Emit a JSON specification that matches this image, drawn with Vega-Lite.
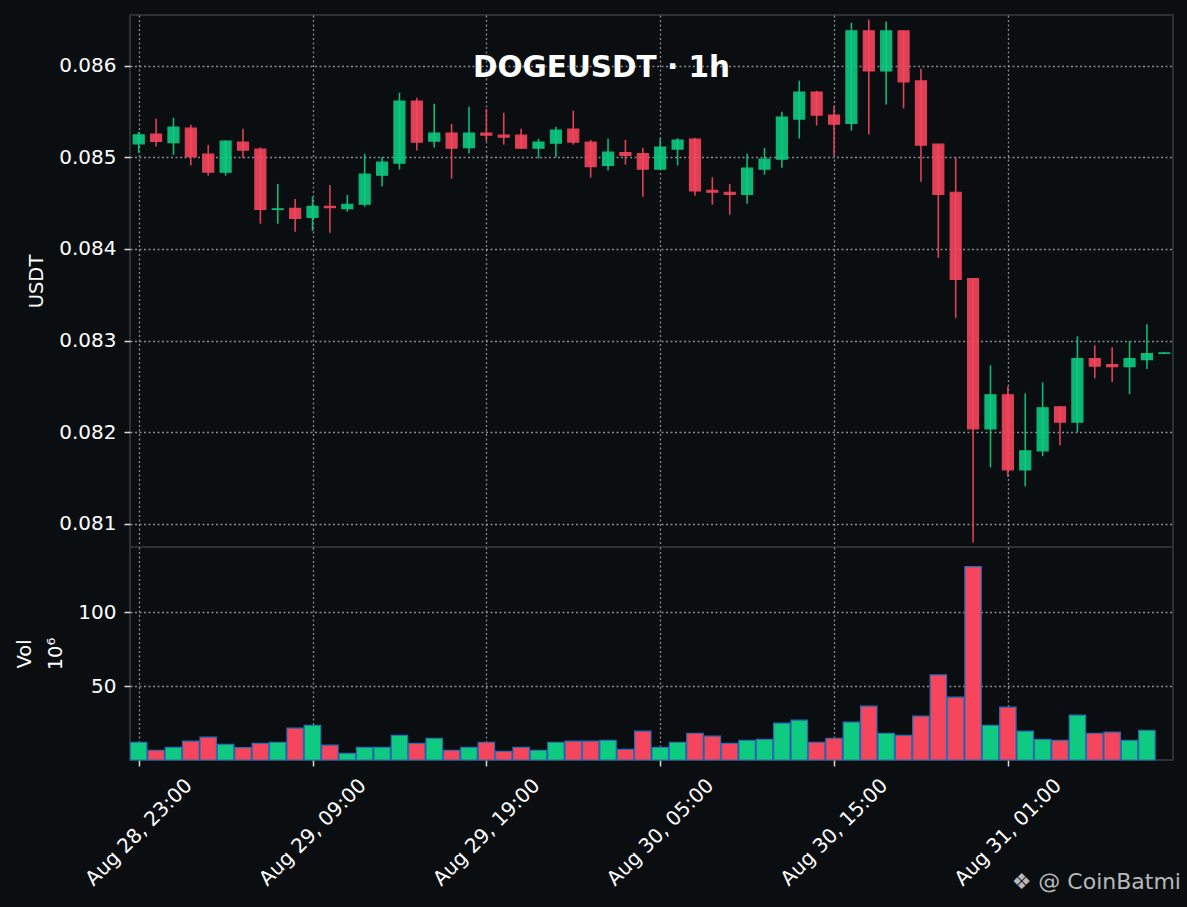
{
  "$schema": "https://vega.github.io/schema/vega-lite/v6.json",
  "background": "#0b0e11",
  "padding": {"left": 13, "top": 14, "right": 10, "bottom": 30},
  "bounds": "flush",
  "spacing": 0,
  "title": {"text": "❖ @ CoinBatmi", "orient": "bottom", "anchor": "end", "offset": -18, "dx": 7, "color": "#b8b8b8", "fontSize": 22, "font": "DejaVu Sans", "fontWeight": "normal"},
  "config": {
    "font": "DejaVu Sans",
    "view": {"stroke": "#2b2f36", "strokeWidth": 2},
    "axis": {"labelColor": "#ffffff", "labelFontSize": 20, "labelFont": "DejaVu Sans", "titleColor": "#ffffff", "titleFontSize": 19.5, "titleFontWeight": "normal", "titleFont": "DejaVu Sans", "tickColor": "#d9d9d9", "tickSize": 6, "tickWidth": 1.5, "domain": false, "gridColor": "#9aa0a6", "gridDash": [2, 2.5], "gridWidth": 1.3, "gridOpacity": 0.85, "labelPadding": 8, "labelOverlap": false, "labelFlush": false, "labelBound": false}
  },
  "data": {"values": [
    {"t": "2024-08-28T23:00:00Z", "o": 0.085147, "h": 0.085278, "l": 0.085048, "c": 0.085245, "v": 12.0},
    {"t": "2024-08-29T00:00:00Z", "o": 0.085253, "h": 0.08542, "l": 0.085117, "c": 0.085172, "v": 6.6},
    {"t": "2024-08-29T01:00:00Z", "o": 0.085161, "h": 0.085431, "l": 0.085026, "c": 0.08533, "v": 8.6},
    {"t": "2024-08-29T02:00:00Z", "o": 0.085318, "h": 0.085355, "l": 0.08491, "c": 0.085008, "v": 12.7},
    {"t": "2024-08-29T03:00:00Z", "o": 0.085034, "h": 0.085136, "l": 0.0848, "c": 0.084837, "v": 15.4},
    {"t": "2024-08-29T04:00:00Z", "o": 0.084837, "h": 0.085187, "l": 0.0848, "c": 0.085176, "v": 10.6},
    {"t": "2024-08-29T05:00:00Z", "o": 0.085165, "h": 0.085311, "l": 0.08499, "c": 0.085078, "v": 8.4},
    {"t": "2024-08-29T06:00:00Z", "o": 0.085089, "h": 0.085106, "l": 0.084275, "c": 0.084432, "v": 11.3},
    {"t": "2024-08-29T07:00:00Z", "o": 0.08443, "h": 0.084709, "l": 0.084275, "c": 0.084437, "v": 12.0},
    {"t": "2024-08-29T08:00:00Z", "o": 0.084443, "h": 0.084545, "l": 0.084187, "c": 0.084334, "v": 21.5},
    {"t": "2024-08-29T09:00:00Z", "o": 0.084345, "h": 0.08457, "l": 0.084195, "c": 0.084465, "v": 23.5},
    {"t": "2024-08-29T10:00:00Z", "o": 0.084465, "h": 0.084698, "l": 0.084176, "c": 0.08445, "v": 10.0},
    {"t": "2024-08-29T11:00:00Z", "o": 0.08444, "h": 0.084589, "l": 0.084406, "c": 0.084487, "v": 4.5},
    {"t": "2024-08-29T12:00:00Z", "o": 0.084487, "h": 0.085037, "l": 0.084461, "c": 0.084815, "v": 8.6},
    {"t": "2024-08-29T13:00:00Z", "o": 0.084804, "h": 0.085004, "l": 0.08468, "c": 0.084946, "v": 8.6},
    {"t": "2024-08-29T14:00:00Z", "o": 0.084936, "h": 0.085705, "l": 0.084866, "c": 0.085614, "v": 16.7},
    {"t": "2024-08-29T15:00:00Z", "o": 0.085614, "h": 0.08565, "l": 0.085073, "c": 0.085165, "v": 11.3},
    {"t": "2024-08-29T16:00:00Z", "o": 0.085176, "h": 0.085584, "l": 0.085106, "c": 0.085264, "v": 14.7},
    {"t": "2024-08-29T17:00:00Z", "o": 0.085264, "h": 0.085365, "l": 0.084767, "c": 0.0851, "v": 6.6},
    {"t": "2024-08-29T18:00:00Z", "o": 0.085106, "h": 0.085551, "l": 0.08504, "c": 0.085264, "v": 8.6},
    {"t": "2024-08-29T19:00:00Z", "o": 0.085264, "h": 0.085526, "l": 0.085172, "c": 0.085242, "v": 12.0},
    {"t": "2024-08-29T20:00:00Z", "o": 0.085242, "h": 0.085486, "l": 0.085139, "c": 0.08522, "v": 5.9},
    {"t": "2024-08-29T21:00:00Z", "o": 0.085242, "h": 0.085311, "l": 0.085089, "c": 0.0851, "v": 8.6},
    {"t": "2024-08-29T22:00:00Z", "o": 0.0851, "h": 0.085201, "l": 0.084986, "c": 0.085165, "v": 6.6},
    {"t": "2024-08-29T23:00:00Z", "o": 0.085154, "h": 0.085333, "l": 0.084997, "c": 0.085297, "v": 12.0},
    {"t": "2024-08-30T00:00:00Z", "o": 0.085308, "h": 0.085508, "l": 0.085139, "c": 0.085165, "v": 12.7},
    {"t": "2024-08-30T01:00:00Z", "o": 0.085165, "h": 0.08519, "l": 0.084778, "c": 0.084898, "v": 12.7},
    {"t": "2024-08-30T02:00:00Z", "o": 0.08491, "h": 0.085201, "l": 0.084855, "c": 0.085056, "v": 13.3},
    {"t": "2024-08-30T03:00:00Z", "o": 0.08505, "h": 0.08519, "l": 0.08492, "c": 0.08502, "v": 7.2},
    {"t": "2024-08-30T04:00:00Z", "o": 0.085041, "h": 0.085103, "l": 0.08457, "c": 0.08487, "v": 19.5},
    {"t": "2024-08-30T05:00:00Z", "o": 0.08487, "h": 0.085209, "l": 0.084862, "c": 0.085111, "v": 8.6},
    {"t": "2024-08-30T06:00:00Z", "o": 0.085089, "h": 0.085209, "l": 0.08491, "c": 0.085187, "v": 12.0},
    {"t": "2024-08-30T07:00:00Z", "o": 0.085198, "h": 0.085212, "l": 0.084581, "c": 0.084632, "v": 18.1},
    {"t": "2024-08-30T08:00:00Z", "o": 0.08464, "h": 0.084782, "l": 0.084483, "c": 0.084618, "v": 16.1},
    {"t": "2024-08-30T09:00:00Z", "o": 0.084618, "h": 0.084709, "l": 0.084373, "c": 0.084596, "v": 11.3},
    {"t": "2024-08-30T10:00:00Z", "o": 0.084596, "h": 0.085037, "l": 0.084494, "c": 0.084881, "v": 13.3},
    {"t": "2024-08-30T11:00:00Z", "o": 0.08487, "h": 0.085103, "l": 0.084811, "c": 0.084979, "v": 14.0},
    {"t": "2024-08-30T12:00:00Z", "o": 0.084979, "h": 0.085497, "l": 0.084887, "c": 0.085439, "v": 24.9},
    {"t": "2024-08-30T13:00:00Z", "o": 0.085417, "h": 0.085836, "l": 0.085205, "c": 0.085712, "v": 26.9},
    {"t": "2024-08-30T14:00:00Z", "o": 0.085712, "h": 0.085725, "l": 0.085347, "c": 0.085461, "v": 12.0},
    {"t": "2024-08-30T15:00:00Z", "o": 0.085461, "h": 0.085559, "l": 0.085019, "c": 0.085362, "v": 14.7},
    {"t": "2024-08-30T16:00:00Z", "o": 0.085369, "h": 0.08647, "l": 0.085292, "c": 0.08638, "v": 25.6},
    {"t": "2024-08-30T17:00:00Z", "o": 0.08638, "h": 0.086503, "l": 0.085248, "c": 0.085942, "v": 36.4},
    {"t": "2024-08-30T18:00:00Z", "o": 0.085942, "h": 0.086481, "l": 0.085577, "c": 0.08638, "v": 18.1},
    {"t": "2024-08-30T19:00:00Z", "o": 0.08638, "h": 0.08638, "l": 0.085533, "c": 0.085822, "v": 16.7},
    {"t": "2024-08-30T20:00:00Z", "o": 0.085833, "h": 0.085967, "l": 0.084734, "c": 0.085132, "v": 29.6},
    {"t": "2024-08-30T21:00:00Z", "o": 0.085143, "h": 0.085143, "l": 0.083903, "c": 0.084596, "v": 57.5},
    {"t": "2024-08-30T22:00:00Z", "o": 0.084618, "h": 0.085001, "l": 0.083246, "c": 0.083666, "v": 42.5},
    {"t": "2024-08-30T23:00:00Z", "o": 0.083677, "h": 0.083677, "l": 0.080796, "c": 0.082036, "v": 130.8},
    {"t": "2024-08-31T00:00:00Z", "o": 0.082036, "h": 0.082729, "l": 0.081616, "c": 0.082408, "v": 23.5},
    {"t": "2024-08-31T01:00:00Z", "o": 0.082408, "h": 0.082499, "l": 0.081514, "c": 0.081588, "v": 35.7},
    {"t": "2024-08-31T02:00:00Z", "o": 0.081588, "h": 0.082423, "l": 0.081408, "c": 0.081796, "v": 19.5},
    {"t": "2024-08-31T03:00:00Z", "o": 0.081796, "h": 0.082543, "l": 0.081737, "c": 0.082266, "v": 14.0},
    {"t": "2024-08-31T04:00:00Z", "o": 0.082277, "h": 0.082277, "l": 0.081857, "c": 0.082109, "v": 13.3},
    {"t": "2024-08-31T05:00:00Z", "o": 0.082109, "h": 0.083046, "l": 0.081999, "c": 0.082802, "v": 30.3},
    {"t": "2024-08-31T06:00:00Z", "o": 0.082802, "h": 0.082948, "l": 0.082587, "c": 0.082721, "v": 18.1},
    {"t": "2024-08-31T07:00:00Z", "o": 0.082737, "h": 0.082926, "l": 0.082546, "c": 0.082715, "v": 18.8},
    {"t": "2024-08-31T08:00:00Z", "o": 0.082715, "h": 0.082995, "l": 0.082415, "c": 0.082802, "v": 13.3},
    {"t": "2024-08-31T09:00:00Z", "o": 0.082791, "h": 0.083177, "l": 0.082688, "c": 0.082857, "v": 20.1},
    {"t": "2024-08-31T10:00:00Z", "o": 0.08286, "h": 0.08287, "l": 0.08285, "c": 0.082865, "v": null}
  ]},
  "vconcat": [
    {
      "width": 1043,
      "height": 532,
      "title": {"text": "DOGEUSDT · 1h", "offset": -68, "dx": -50, "anchor": "middle", "fontSize": 29.5, "fontWeight": "bold", "color": "#ffffff", "font": "DejaVu Sans"},
      "encoding": {
        "x": {"field": "t", "type": "temporal",
          "scale": {"type": "utc", "padding": 0, "domain": [{"year": 2024, "month": 8, "date": 28, "hours": 22, "minutes": 30, "utc": true}, {"year": 2024, "month": 8, "date": 31, "hours": 10, "minutes": 30, "utc": true}]},
          "axis": {"values": [
            {"year": 2024, "month": 8, "date": 28, "hours": 23, "utc": true},
            {"year": 2024, "month": 8, "date": 29, "hours": 9, "utc": true},
            {"year": 2024, "month": 8, "date": 29, "hours": 19, "utc": true},
            {"year": 2024, "month": 8, "date": 30, "hours": 5, "utc": true},
            {"year": 2024, "month": 8, "date": 30, "hours": 15, "utc": true},
            {"year": 2024, "month": 8, "date": 31, "hours": 1, "utc": true}
          ], "labels": false, "ticks": false, "title": null, "grid": true}
        },
        "color": {"condition": {"test": "datum.c >= datum.o", "value": "#0ecb81"}, "value": "#f6465d"}
      },
      "layer": [
        {
          "mark": {"type": "rule", "strokeWidth": 1.6, "opacity": 0.9},
          "encoding": {
            "y": {"field": "l", "type": "quantitative",
              "scale": {"domain": [0.080746, 0.086553], "zero": false, "nice": false, "padding": 0},
              "axis": {"values": [0.081, 0.082, 0.083, 0.084, 0.085, 0.086], "format": ".3f", "title": "USDT", "titlePadding": 12, "grid": true}},
            "y2": {"field": "h"}
          }
        },
        {
          "mark": {"type": "bar", "width": 11, "strokeWidth": 1.2, "opacity": 0.9},
          "encoding": {
            "y": {"field": "o", "type": "quantitative"},
            "y2": {"field": "c"},
            "stroke": {"condition": {"test": "datum.c >= datum.o", "value": "#0ecb81"}, "value": "#f6465d"}
          }
        }
      ]
    },
    {
      "width": 1043,
      "height": 213,
      "mark": {"type": "bar", "width": 16.4, "stroke": "#2a6db5", "strokeWidth": 1.2},
      "encoding": {
        "x": {"field": "t", "type": "temporal",
          "scale": {"type": "utc", "padding": 0, "domain": [{"year": 2024, "month": 8, "date": 28, "hours": 22, "minutes": 30, "utc": true}, {"year": 2024, "month": 8, "date": 31, "hours": 10, "minutes": 30, "utc": true}]},
          "axis": {"values": [
            {"year": 2024, "month": 8, "date": 28, "hours": 23, "utc": true},
            {"year": 2024, "month": 8, "date": 29, "hours": 9, "utc": true},
            {"year": 2024, "month": 8, "date": 29, "hours": 19, "utc": true},
            {"year": 2024, "month": 8, "date": 30, "hours": 5, "utc": true},
            {"year": 2024, "month": 8, "date": 30, "hours": 15, "utc": true},
            {"year": 2024, "month": 8, "date": 31, "hours": 1, "utc": true}
          ], "labelExpr": "utcFormat(datum.value, '%b %d, %H:%M')", "labelAngle": -45, "labelAlign": "center", "labelBaseline": "middle", "labelPadding": 66, "title": null, "grid": true}
        },
        "y": {"field": "v", "type": "quantitative",
          "scale": {"domain": [0, 144], "nice": false, "padding": 0},
          "axis": {"values": [50, 100], "format": "d", "title": ["Vol", "10⁶"], "titleLineHeight": 31, "titlePadding": 12, "grid": true}},
        "color": {"condition": {"test": "datum.c >= datum.o", "value": "#0ecb81"}, "value": "#f6465d"}
      }
    }
  ]
}
